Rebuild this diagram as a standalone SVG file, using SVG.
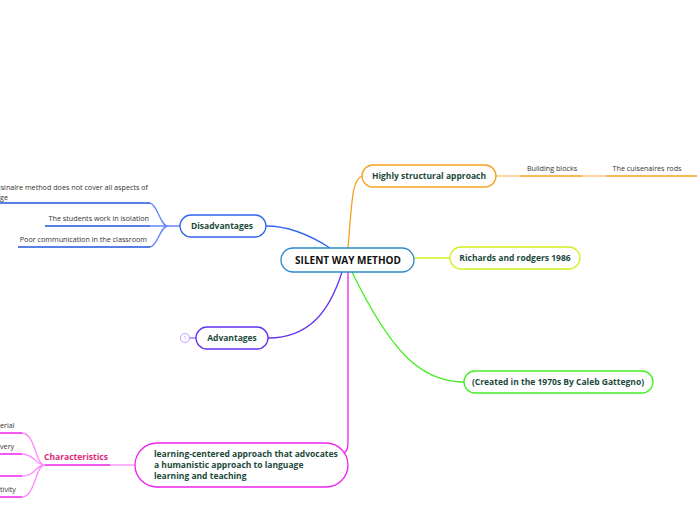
<svg xmlns="http://www.w3.org/2000/svg" width="697" height="520" viewBox="0 0 697 520">
<style>
text{font-family:"Open Sans","Noto Sans",sans-serif}
.b{font-size:8.5px;font-weight:bold;fill:#1b4a3a}
.s{font-size:7.2px;fill:#333}
.n{fill:#fff;stroke-width:1.3}
.c{fill:none;stroke-width:1.3}
</style>
<rect width="697" height="520" fill="#fff"/>
<g id="connectors">
<path class="c" stroke="#f7a020" d="M348,248 C352,200 352,180 362,176"/>
<path class="c" stroke="#f7c070" d="M496,176 H520"/>
<path class="c" stroke="#f7a020" d="M520,176 H582"/>
<path class="c" stroke="#f7c070" d="M582,176 H606"/>
<path class="c" stroke="#f7a020" d="M606,176 H697"/>
<path class="c" stroke="#3366ee" d="M330,248 C310,235 290,226 266,226"/>
<path class="c" stroke="#6688ff" d="M180,226 H168 C160,226 158,205 150,203 M168,226 C160,226 158,226 150,226 M168,226 C160,226 158,246 150,247"/>
<path class="c" stroke="#2255dd" d="M0,203 H150 M45,226 H150 M18,247 H150"/>
<path class="c" stroke="#d4ee22" d="M414,258 H450"/>
<path class="c" stroke="#6633ee" d="M342,272 C330,310 310,338 268,338"/>
<path class="c" stroke="#9966ff" d="M196,338 H190"/>
<path class="c" stroke="#44ee22" d="M352,272 C390,350 420,382 464,382"/>
<path class="c" stroke="#ee22ee" d="M348,272 V440 C348,448 348,452 340,455"/>
<path class="c" stroke="#ff88ff" d="M135,465 H110"/>
<path class="c" stroke="#ee22ee" d="M110,465 H45"/>
<path class="c" stroke="#ff88ff" d="M45,465 C35,465 36,434 22,433 M45,465 C35,465 36,455 22,454 M45,465 C35,465 36,476 22,476 M45,465 C35,465 36,496 22,497"/>
<path class="c" stroke="#ee22ee" d="M0,433 H22 M0,454 H22 M0,476 H22 M0,497 H22"/>
</g>
<g id="center"><rect class="n" stroke="#2a88cc" x="281" y="248" width="133" height="24" rx="12"/><text x="348" y="264" text-anchor="middle" style="font-size:10px;font-weight:bold;fill:#111">SILENT WAY METHOD</text></g>
<g id="highly"><rect class="n" stroke="#f7a020" x="362" y="165" width="134" height="22" rx="11"/><text class="b" x="429" y="179" text-anchor="middle">Highly structural approach</text></g>
<g id="building"><text class="s" x="552" y="171" text-anchor="middle">Building  blocks</text></g>
<g id="rods"><text class="s" x="647" y="171" text-anchor="middle">The cuisenaires rods</text></g>
<g id="disadv"><rect class="n" stroke="#3366ee" x="180" y="215" width="86" height="22" rx="11"/><text class="b" x="222" y="229" text-anchor="middle">Disadvantages</text></g>
<g id="d1"><text class="s" x="148" y="190" text-anchor="end">isinaire method does not cover all aspects of</text><text class="s" x="0" y="200">ge</text></g>
<g id="d2"><text class="s" x="149" y="221" text-anchor="end">The students work in isolation</text></g>
<g id="d3"><text class="s" x="147" y="242" text-anchor="end">Poor communication in the classroom</text></g>
<g id="richards"><rect class="n" stroke="#d4ee22" x="450" y="247" width="130" height="22" rx="11"/><text class="b" x="515" y="261" text-anchor="middle">Richards and rodgers 1986</text></g>
<g id="adv"><rect class="n" stroke="#6633ee" x="196" y="327" width="72" height="22" rx="11"/><text class="b" x="232" y="341" text-anchor="middle">Advantages</text><circle cx="185" cy="338" r="4.5" fill="#fff" stroke="#aa88ff" stroke-width="0.8"/><text x="185" y="340" text-anchor="middle" style="font-size:5px;fill:#aa88ff">1</text></g>
<g id="created"><rect class="n" stroke="#44ee22" x="464" y="371" width="189" height="22" rx="11"/><text class="b" x="558" y="385" text-anchor="middle">(Created in the 1970s By Caleb Gattegno)</text></g>
<g id="learning"><rect class="n" stroke="#ee22ee" x="135" y="443" width="213" height="44" rx="22"/><text class="b" x="154" y="457">learning-centered approach that advocates</text><text class="b" x="154" y="468">a humanistic approach to language</text><text class="b" x="154" y="479">learning and teaching</text></g>
<g id="charac"><text x="76" y="460" text-anchor="middle" style="font-size:8.5px;font-weight:bold;fill:#e0287a">Characteristics</text></g>
<g id="c1"><text class="s" x="0" y="428">erial</text></g>
<g id="c2"><text class="s" x="0" y="449">very</text></g>
<g id="c4"><text class="s" x="0" y="492">tivity</text></g>
</svg>
